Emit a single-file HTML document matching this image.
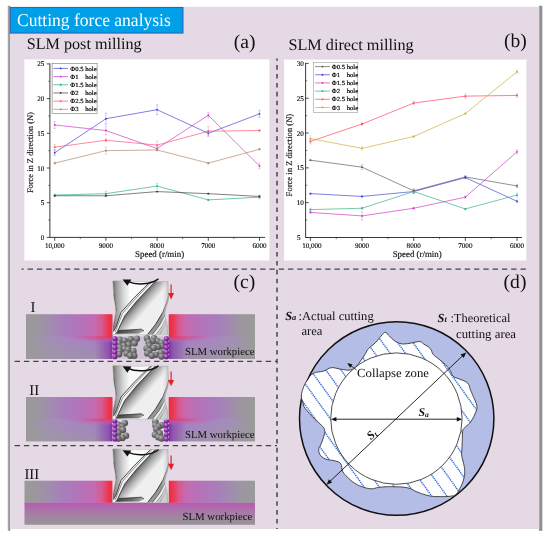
<!DOCTYPE html>
<html lang="en"><head><meta charset="utf-8"><title>Cutting force analysis</title>
<style>
html,body{margin:0;padding:0;background:#fff;}
body{width:550px;height:538px;overflow:hidden;position:relative;font-family:"Liberation Serif",serif;}
svg{position:absolute;left:0;top:0;display:block;}
text{font-family:"Liberation Serif",serif;fill:#111;text-rendering:geometricPrecision;}
.ax text{font-size:7.1px;fill:#000;stroke:#000;stroke-width:0.12px;}
.lg text{font-size:6.2px;fill:#000;stroke:#000;stroke-width:0.18px;}
</style></head><body>
<svg width="550" height="538" viewBox="0 0 550 538">
<defs>
<linearGradient id="gBL" x1="0" x2="1" y1="0" y2="0"><stop offset="0" stop-color="#e2e2e2"/><stop offset="0.45" stop-color="#9a9a9a"/><stop offset="1" stop-color="#7c7c7c"/></linearGradient>
<linearGradient id="gBR" x1="0" x2="1" y1="0" y2="0"><stop offset="0" stop-color="#848484"/><stop offset="0.6" stop-color="#8e8e8e"/><stop offset="1" stop-color="#d8d8d8"/></linearGradient>
<linearGradient id="gUp" x1="0" x2="1" y1="0" y2="0">
 <stop offset="0" stop-color="#9a9a9a"/><stop offset="0.15" stop-color="#9c969f"/><stop offset="0.28" stop-color="#a18cae"/>
 <stop offset="0.45" stop-color="#a87dbc"/><stop offset="0.65" stop-color="#b572b9"/><stop offset="0.8" stop-color="#c56ab0"/>
 <stop offset="0.88" stop-color="#d65a90"/><stop offset="0.95" stop-color="#ec3850"/><stop offset="1" stop-color="#f02a3c"/>
</linearGradient>
<linearGradient id="gUpR" x1="1" x2="0" y1="0" y2="0">
 <stop offset="0" stop-color="#9a9a9a"/><stop offset="0.15" stop-color="#9c969f"/><stop offset="0.28" stop-color="#a18cae"/>
 <stop offset="0.45" stop-color="#a87dbc"/><stop offset="0.65" stop-color="#b572b9"/><stop offset="0.8" stop-color="#c56ab0"/>
 <stop offset="0.88" stop-color="#d65a90"/><stop offset="0.95" stop-color="#ec3850"/><stop offset="1" stop-color="#f02a3c"/>
</linearGradient>
<linearGradient id="gLo" x1="0" x2="1" y1="0" y2="0">
 <stop offset="0" stop-color="#9a9a9a"/><stop offset="0.1" stop-color="#9d96a2"/><stop offset="0.25" stop-color="#a38eb8"/>
 <stop offset="0.5" stop-color="#a785c4"/><stop offset="1" stop-color="#a57bc4"/>
</linearGradient>
<linearGradient id="gLoR" x1="1" x2="0" y1="0" y2="0">
 <stop offset="0" stop-color="#9a9a9a"/><stop offset="0.1" stop-color="#9d96a2"/><stop offset="0.25" stop-color="#a38eb8"/>
 <stop offset="0.5" stop-color="#a785c4"/><stop offset="1" stop-color="#a57bc4"/>
</linearGradient>
<radialGradient id="gStreak" cx="1" cy="0" r="1" gradientTransform="translate(1 0) scale(0.62 0.32) translate(-1 0)">
 <stop offset="0" stop-color="#f02c50" stop-opacity="1"/><stop offset="0.5" stop-color="#d8508c" stop-opacity="0.7"/><stop offset="1" stop-color="#c070c0" stop-opacity="0"/>
</radialGradient>
<radialGradient id="gStreakR" cx="0" cy="0" r="1" gradientTransform="scale(0.62 0.32)">
 <stop offset="0" stop-color="#f02c50" stop-opacity="1"/><stop offset="0.5" stop-color="#d8508c" stop-opacity="0.7"/><stop offset="1" stop-color="#c070c0" stop-opacity="0"/>
</radialGradient>
<linearGradient id="gGrayBot" x1="0.05" x2="0.4" y1="1.1" y2="0">
 <stop offset="0" stop-color="#9b9a9b" stop-opacity="0.8"/><stop offset="1" stop-color="#9b9a9b" stop-opacity="0"/>
</linearGradient>
<linearGradient id="gGrayBotR" x1="0.95" x2="0.6" y1="1.1" y2="0">
 <stop offset="0" stop-color="#9b9a9b" stop-opacity="0.8"/><stop offset="1" stop-color="#9b9a9b" stop-opacity="0"/>
</linearGradient>
<linearGradient id="gDeep" x1="0" x2="1" y1="0" y2="0"><stop offset="0.8" stop-color="#7a28a0" stop-opacity="0"/><stop offset="0.95" stop-color="#8030a8" stop-opacity="0.55"/><stop offset="1" stop-color="#7a1f9c" stop-opacity="0.85"/></linearGradient>
<linearGradient id="gDeepR" x1="1" x2="0" y1="0" y2="0"><stop offset="0.8" stop-color="#7a28a0" stop-opacity="0"/><stop offset="0.95" stop-color="#8030a8" stop-opacity="0.55"/><stop offset="1" stop-color="#7a1f9c" stop-opacity="0.85"/></linearGradient>
<linearGradient id="gIII" x1="0" x2="0" y1="0" y2="1">
 <stop offset="0" stop-color="#b855b4"/><stop offset="0.35" stop-color="#aa74a8"/><stop offset="1" stop-color="#989698"/>
</linearGradient>
<linearGradient id="gBody" x1="0" x2="1" y1="0" y2="0">
 <stop offset="0" stop-color="#8c8c8c"/><stop offset="0.08" stop-color="#d9d9d9"/><stop offset="0.2" stop-color="#ffffff"/>
 <stop offset="0.42" stop-color="#e8e8e8"/><stop offset="0.6" stop-color="#b5b5b5"/><stop offset="0.72" stop-color="#f6f6f6"/>
 <stop offset="0.9" stop-color="#ffffff"/><stop offset="1" stop-color="#c4c4c4"/>
</linearGradient>
<linearGradient id="gShade" x1="0" x2="1" y1="0" y2="0">
 <stop offset="0" stop-color="#7d7d7d"/><stop offset="1" stop-color="#e9e9e9"/>
</linearGradient>
<linearGradient id="gShade2" x1="0" x2="1" y1="0" y2="1">
 <stop offset="0" stop-color="#f4f4f4"/><stop offset="1" stop-color="#8a8a8a"/>
</linearGradient>
<radialGradient id="gBall" cx="0.35" cy="0.3" r="0.75">
 <stop offset="0" stop-color="#b4b4b4"/><stop offset="0.5" stop-color="#747474"/><stop offset="1" stop-color="#484848"/>
</radialGradient>
<radialGradient id="gBallP" cx="0.35" cy="0.3" r="0.75">
 <stop offset="0" stop-color="#d090e0"/><stop offset="0.55" stop-color="#8a2aa6"/><stop offset="1" stop-color="#5a1478"/>
</radialGradient>
<linearGradient id="gLeft" gradientUnits="userSpaceOnUse" x1="0" y1="0" x2="17" y2="0">
 <stop offset="0" stop-color="#6c6c6c"/><stop offset="0.25" stop-color="#a2a2a2"/><stop offset="0.6" stop-color="#d4d4d4"/><stop offset="1" stop-color="#fafafa"/>
</linearGradient>
<linearGradient id="gBand" gradientUnits="userSpaceOnUse" x1="24" y1="17" x2="33.8" y2="25.6">
 <stop offset="0" stop-color="#626262"/><stop offset="0.3" stop-color="#9a9a9a"/><stop offset="0.65" stop-color="#cacaca"/><stop offset="1" stop-color="#efefef"/>
</linearGradient>
<linearGradient id="gEdgeR" gradientUnits="userSpaceOnUse" x1="49" y1="0" x2="57" y2="0">
 <stop offset="0" stop-color="#ffffff" stop-opacity="0"/><stop offset="1" stop-color="#a8a8a8" stop-opacity="0.9"/>
</linearGradient>
<linearGradient id="gFace" gradientUnits="userSpaceOnUse" x1="4" y1="0" x2="31" y2="0">
 <stop offset="0" stop-color="#3f3f3f"/><stop offset="0.6" stop-color="#6d6d6d"/><stop offset="1" stop-color="#a5a5a5"/>
</linearGradient>
<clipPath id="toolClip"><path id="toolPath" d="M0.5,-0.9 C9,-1.8 18,0.2 28,-0.3 C38,-0.8 48,-0.2 55.8,-0.6 L56.4,15.6 C56.2,21 53,27 52.7,31.7 C52.6,37 55.4,42 55.8,45.3 L56.1,52.6 L0.5,52.6 L0.7,45.3 C1,41 3.4,33 3.5,28 C3.5,23 1.7,18 1.4,13.1 Z"/></clipPath>
<g id="tool">
 <use href="#toolPath" fill="#f4f4f4"/>
 <g clip-path="url(#toolClip)">
  <g transform="translate(0.6 2)">
  <path d="M-2,-6 L41.5,-6 L31.6,3.5 L20.5,14.6 L8.2,28.5 L3.2,43 L0.6,47 L-2,53 Z" fill="url(#gLeft)"/>
  <path d="M45.6,-6 L37.8,2.4 L24,17 L12,31.8 L5,46 L3.4,53 L58,53 L58,-6 Z" fill="url(#gBand)"/>
  <path d="M32.9,53 L42.8,40.3 L50.2,28 L53.9,18.1 L56.5,9 L58,9 L58,53 Z" fill="#ededed"/>
  <path d="M32.9,53 L42.8,40.3 L50.2,28 L53.9,18.1 L56.2,10.5 L57.5,18 L54.9,23.5 L52,31.7 L46.5,41.6 L37.8,53 Z" fill="#969696"/>
  <path d="M41,53 L48.6,43 L53.2,34 L55,28 L57,30 L57,53 Z" fill="#c9c9c9"/>
  <path d="M0.6,47.5 L3.2,43 L8.2,28.5 L20.5,14.6 L31.6,3.5 L41.5,-6" fill="none" stroke="#2b2b2b" stroke-width="0.85"/>
  <path d="M2.4,48 L9.6,29.6 L21.8,15.6 L33,3.8 L42.8,-6" fill="none" stroke="#3a3a3a" stroke-width="0.55"/>
  <path d="M4.4,48 L12,31.8 L24,17 L37.8,2.4 L45.6,-6" fill="none" stroke="#2b2b2b" stroke-width="0.8"/>
  <path d="M32.9,53 L42.8,40.3 L50.2,28 L53.9,18.1 L56.3,10" fill="none" stroke="#2b2b2b" stroke-width="0.85"/>
  <path d="M37.8,53 L46.5,41.6 L52,31.7 L54.9,23.5 L57,18" fill="none" stroke="#3a3a3a" stroke-width="0.6"/>
  <path d="M41.4,53 L48.8,43 L53.3,34 L55.2,28" fill="none" stroke="#666" stroke-width="0.5"/>
  <path d="M45.4,53 L51.4,42.8 L53.9,36.6" fill="none" stroke="#777" stroke-width="0.5"/>
  </g>
  <rect x="46" y="-3" width="12" height="57" fill="url(#gEdgeR)"/>
  <path d="M1.6,11 C2,19 3.8,24 3.9,29" fill="none" stroke="#4a4a4a" stroke-width="0.7"/>
  <path d="M6.3,48.5 L29.2,47.2 L31.8,49 L26.7,51.6 L2.6,51.8 Z" fill="url(#gFace)"/>
  <path d="M6.3,48.5 L29.2,47.2 L31.8,49" fill="none" stroke="#222" stroke-width="0.7"/>
 </g>
 <use href="#toolPath" fill="none" stroke="#9a9a9a" stroke-width="0.35"/>
</g>
<g id="toolArr">
 <path d="M45.8,-3.8 C39,1.6 24,2.4 16,-1.4" fill="none" stroke="#111" stroke-width="1.5" stroke-linecap="round"/>
 <path d="M10.4,-3.6 L19.2,-3.4 L15.2,2.8 Z" fill="#111"/>
 <path d="M58.9,1.6 L58.9,11" stroke="#e61e28" stroke-width="1.2" fill="none"/>
 <path d="M55.9,10 L61.9,10 L58.9,16.4 Z" fill="#e61e28"/>
</g>
</defs>

<rect x="0" y="0" width="550" height="538" fill="#ffffff"/>
<rect x="7.4" y="5.8" width="2.8" height="525" fill="url(#gBL)"/>
<rect x="539" y="5.8" width="3.8" height="525" fill="url(#gBR)"/>
<rect x="9.8" y="6.8" width="529.6" height="522.2" fill="#e6d9e6"/>
<rect x="10.2" y="7.4" width="172.8" height="25.7" fill="#00a0e9" stroke="#3c4fae" stroke-width="0.9"/>
<text x="17" y="26.3" font-size="18.2" style="fill:#ffffff" textLength="153.8" lengthAdjust="spacingAndGlyphs">Cutting force analysis</text>
<text x="26.7" y="49.2" font-size="16.1" textLength="114.9" lengthAdjust="spacingAndGlyphs">SLM post milling</text>
<text x="233.7" y="47.6" font-size="19.6">(a)</text>
<text x="288.4" y="50" font-size="16.1" textLength="125.3" lengthAdjust="spacingAndGlyphs">SLM direct milling</text>
<text x="504" y="46.6" font-size="19.6">(b)</text>
<rect x="24.4" y="59.4" width="245.0" height="201.1" fill="#ffffff"/>
<g class="ax">
<path d="M49.9,63.5 V237.4 H265" fill="none" stroke="#222" stroke-width="0.9"/>
<path d="M49.9,237.40 h-3.1" stroke="#222" stroke-width="0.8"/>
<text x="44.4" y="239.90" text-anchor="end">0</text>
<path d="M49.9,220.05 h-1.6" stroke="#222" stroke-width="0.6"/>
<path d="M49.9,202.70 h-3.1" stroke="#222" stroke-width="0.8"/>
<text x="44.4" y="205.20" text-anchor="end">5</text>
<path d="M49.9,185.35 h-1.6" stroke="#222" stroke-width="0.6"/>
<path d="M49.9,168.00 h-3.1" stroke="#222" stroke-width="0.8"/>
<text x="44.4" y="170.50" text-anchor="end">10</text>
<path d="M49.9,150.65 h-1.6" stroke="#222" stroke-width="0.6"/>
<path d="M49.9,133.30 h-3.1" stroke="#222" stroke-width="0.8"/>
<text x="44.4" y="135.80" text-anchor="end">15</text>
<path d="M49.9,115.95 h-1.6" stroke="#222" stroke-width="0.6"/>
<path d="M49.9,98.60 h-3.1" stroke="#222" stroke-width="0.8"/>
<text x="44.4" y="101.10" text-anchor="end">20</text>
<path d="M49.9,81.25 h-1.6" stroke="#222" stroke-width="0.6"/>
<path d="M49.9,63.90 h-3.1" stroke="#222" stroke-width="0.8"/>
<text x="44.4" y="66.40" text-anchor="end">25</text>
<path d="M54.70,237.4 v3.4" stroke="#222" stroke-width="0.8"/>
<text x="54.70" y="248.30" text-anchor="middle">10,000</text>
<path d="M105.90,237.4 v3.4" stroke="#222" stroke-width="0.8"/>
<text x="105.90" y="248.30" text-anchor="middle">9000</text>
<path d="M157.10,237.4 v3.4" stroke="#222" stroke-width="0.8"/>
<text x="157.10" y="248.30" text-anchor="middle">8000</text>
<path d="M208.30,237.4 v3.4" stroke="#222" stroke-width="0.8"/>
<text x="208.30" y="248.30" text-anchor="middle">7000</text>
<path d="M259.50,237.4 v3.4" stroke="#222" stroke-width="0.8"/>
<text x="259.50" y="248.30" text-anchor="middle">6000</text>
<path d="M80.30,237.4 v1.7" stroke="#222" stroke-width="0.6"/>
<path d="M131.50,237.4 v1.7" stroke="#222" stroke-width="0.6"/>
<path d="M182.70,237.4 v1.7" stroke="#222" stroke-width="0.6"/>
<path d="M233.90,237.4 v1.7" stroke="#222" stroke-width="0.6"/>
</g>
<polyline points="54.70,152.73 105.90,118.73 157.10,109.70 208.30,133.30 259.50,113.87" fill="none" stroke="#3b3bd0" stroke-width="0.9" stroke-opacity="0.72"/>
<circle cx="54.70" cy="152.73" r="0.9" fill="#3b3bd0"/>
<path d="M54.70,149.96 V155.51 M53.50,149.96 h2.4 M53.50,155.51 h2.4" stroke="#3b3bd0" stroke-width="0.45" stroke-opacity="0.6" fill="none"/>
<circle cx="105.90" cy="118.73" r="0.9" fill="#3b3bd0"/>
<path d="M105.90,113.17 V124.28 M104.70,113.17 h2.4 M104.70,124.28 h2.4" stroke="#3b3bd0" stroke-width="0.45" stroke-opacity="0.6" fill="none"/>
<circle cx="157.10" cy="109.70" r="0.9" fill="#3b3bd0"/>
<path d="M157.10,104.85 V114.56 M155.90,104.85 h2.4 M155.90,114.56 h2.4" stroke="#3b3bd0" stroke-width="0.45" stroke-opacity="0.6" fill="none"/>
<circle cx="208.30" cy="133.30" r="0.9" fill="#3b3bd0"/>
<path d="M208.30,130.52 V136.08 M207.10,130.52 h2.4 M207.10,136.08 h2.4" stroke="#3b3bd0" stroke-width="0.45" stroke-opacity="0.6" fill="none"/>
<circle cx="259.50" cy="113.87" r="0.9" fill="#3b3bd0"/>
<path d="M259.50,110.40 V117.34 M258.30,110.40 h2.4 M258.30,117.34 h2.4" stroke="#3b3bd0" stroke-width="0.45" stroke-opacity="0.6" fill="none"/>
<polyline points="54.70,124.97 105.90,130.52 157.10,148.57 208.30,115.26 259.50,165.92" fill="none" stroke="#c832c8" stroke-width="0.9" stroke-opacity="0.72"/>
<circle cx="54.70" cy="124.97" r="0.9" fill="#c832c8"/>
<path d="M54.70,121.50 V128.44 M53.50,121.50 h2.4 M53.50,128.44 h2.4" stroke="#c832c8" stroke-width="0.45" stroke-opacity="0.6" fill="none"/>
<circle cx="105.90" cy="130.52" r="0.9" fill="#c832c8"/>
<path d="M105.90,126.36 V134.69 M104.70,126.36 h2.4 M104.70,134.69 h2.4" stroke="#c832c8" stroke-width="0.45" stroke-opacity="0.6" fill="none"/>
<circle cx="157.10" cy="148.57" r="0.9" fill="#c832c8"/>
<path d="M157.10,146.49 V150.65 M155.90,146.49 h2.4 M155.90,150.65 h2.4" stroke="#c832c8" stroke-width="0.45" stroke-opacity="0.6" fill="none"/>
<circle cx="208.30" cy="115.26" r="0.9" fill="#c832c8"/>
<path d="M208.30,112.48 V118.03 M207.10,112.48 h2.4 M207.10,118.03 h2.4" stroke="#c832c8" stroke-width="0.45" stroke-opacity="0.6" fill="none"/>
<circle cx="259.50" cy="165.92" r="0.9" fill="#c832c8"/>
<path d="M259.50,163.14 V168.69 M258.30,163.14 h2.4 M258.30,168.69 h2.4" stroke="#c832c8" stroke-width="0.45" stroke-opacity="0.6" fill="none"/>
<polyline points="54.70,195.07 105.90,193.68 157.10,186.04 208.30,199.92 259.50,197.15" fill="none" stroke="#20a884" stroke-width="0.9" stroke-opacity="0.72"/>
<circle cx="54.70" cy="195.07" r="0.9" fill="#20a884"/>
<path d="M54.70,194.03 V196.11 M53.50,194.03 h2.4 M53.50,196.11 h2.4" stroke="#20a884" stroke-width="0.45" stroke-opacity="0.6" fill="none"/>
<circle cx="105.90" cy="193.68" r="0.9" fill="#20a884"/>
<path d="M105.90,191.25 V196.11 M104.70,191.25 h2.4 M104.70,196.11 h2.4" stroke="#20a884" stroke-width="0.45" stroke-opacity="0.6" fill="none"/>
<circle cx="157.10" cy="186.04" r="0.9" fill="#20a884"/>
<path d="M157.10,183.27 V188.82 M155.90,183.27 h2.4 M155.90,188.82 h2.4" stroke="#20a884" stroke-width="0.45" stroke-opacity="0.6" fill="none"/>
<circle cx="208.30" cy="199.92" r="0.9" fill="#20a884"/>
<path d="M208.30,199.23 V200.62 M207.10,199.23 h2.4 M207.10,200.62 h2.4" stroke="#20a884" stroke-width="0.45" stroke-opacity="0.6" fill="none"/>
<circle cx="259.50" cy="197.15" r="0.9" fill="#20a884"/>
<path d="M259.50,195.41 V198.88 M258.30,195.41 h2.4 M258.30,198.88 h2.4" stroke="#20a884" stroke-width="0.45" stroke-opacity="0.6" fill="none"/>
<polyline points="54.70,195.76 105.90,195.76 157.10,191.60 208.30,193.68 259.50,196.45" fill="none" stroke="#3a3a3a" stroke-width="0.9" stroke-opacity="0.72"/>
<circle cx="54.70" cy="195.76" r="0.9" fill="#3a3a3a"/>
<path d="M54.70,195.41 V196.11 M53.50,195.41 h2.4 M53.50,196.11 h2.4" stroke="#3a3a3a" stroke-width="0.45" stroke-opacity="0.6" fill="none"/>
<circle cx="105.90" cy="195.76" r="0.9" fill="#3a3a3a"/>
<path d="M105.90,195.07 V196.45 M104.70,195.07 h2.4 M104.70,196.45 h2.4" stroke="#3a3a3a" stroke-width="0.45" stroke-opacity="0.6" fill="none"/>
<circle cx="157.10" cy="191.60" r="0.9" fill="#3a3a3a"/>
<path d="M157.10,191.25 V191.94 M155.90,191.25 h2.4 M155.90,191.94 h2.4" stroke="#3a3a3a" stroke-width="0.45" stroke-opacity="0.6" fill="none"/>
<circle cx="208.30" cy="193.68" r="0.9" fill="#3a3a3a"/>
<path d="M208.30,193.33 V194.03 M207.10,193.33 h2.4 M207.10,194.03 h2.4" stroke="#3a3a3a" stroke-width="0.45" stroke-opacity="0.6" fill="none"/>
<circle cx="259.50" cy="196.45" r="0.9" fill="#3a3a3a"/>
<path d="M259.50,195.41 V197.50 M258.30,195.41 h2.4 M258.30,197.50 h2.4" stroke="#3a3a3a" stroke-width="0.45" stroke-opacity="0.6" fill="none"/>
<polyline points="54.70,147.18 105.90,140.24 157.10,145.10 208.30,131.22 259.50,130.52" fill="none" stroke="#ff4a6a" stroke-width="0.9" stroke-opacity="0.72"/>
<circle cx="54.70" cy="147.18" r="0.9" fill="#ff4a6a"/>
<path d="M54.70,144.40 V149.96 M53.50,144.40 h2.4 M53.50,149.96 h2.4" stroke="#ff4a6a" stroke-width="0.45" stroke-opacity="0.6" fill="none"/>
<circle cx="105.90" cy="140.24" r="0.9" fill="#ff4a6a"/>
<path d="M105.90,138.85 V141.63 M104.70,138.85 h2.4 M104.70,141.63 h2.4" stroke="#ff4a6a" stroke-width="0.45" stroke-opacity="0.6" fill="none"/>
<circle cx="157.10" cy="145.10" r="0.9" fill="#ff4a6a"/>
<path d="M157.10,140.93 V149.26 M155.90,140.93 h2.4 M155.90,149.26 h2.4" stroke="#ff4a6a" stroke-width="0.45" stroke-opacity="0.6" fill="none"/>
<circle cx="208.30" cy="131.22" r="0.9" fill="#ff4a6a"/>
<path d="M208.30,126.36 V136.08 M207.10,126.36 h2.4 M207.10,136.08 h2.4" stroke="#ff4a6a" stroke-width="0.45" stroke-opacity="0.6" fill="none"/>
<circle cx="259.50" cy="130.52" r="0.9" fill="#ff4a6a"/>
<path d="M259.50,129.83 V131.22 M258.30,129.83 h2.4 M258.30,131.22 h2.4" stroke="#ff4a6a" stroke-width="0.45" stroke-opacity="0.6" fill="none"/>
<polyline points="54.70,163.14 105.90,150.65 157.10,149.96 208.30,163.14 259.50,149.26" fill="none" stroke="#b08060" stroke-width="0.9" stroke-opacity="0.72"/>
<circle cx="54.70" cy="163.14" r="0.9" fill="#b08060"/>
<path d="M54.70,162.10 V164.18 M53.50,162.10 h2.4 M53.50,164.18 h2.4" stroke="#b08060" stroke-width="0.45" stroke-opacity="0.6" fill="none"/>
<circle cx="105.90" cy="150.65" r="0.9" fill="#b08060"/>
<path d="M105.90,147.18 V154.12 M104.70,147.18 h2.4 M104.70,154.12 h2.4" stroke="#b08060" stroke-width="0.45" stroke-opacity="0.6" fill="none"/>
<circle cx="157.10" cy="149.96" r="0.9" fill="#b08060"/>
<path d="M157.10,148.92 V151.00 M155.90,148.92 h2.4 M155.90,151.00 h2.4" stroke="#b08060" stroke-width="0.45" stroke-opacity="0.6" fill="none"/>
<circle cx="208.30" cy="163.14" r="0.9" fill="#b08060"/>
<path d="M208.30,162.10 V164.18 M207.10,162.10 h2.4 M207.10,164.18 h2.4" stroke="#b08060" stroke-width="0.45" stroke-opacity="0.6" fill="none"/>
<circle cx="259.50" cy="149.26" r="0.9" fill="#b08060"/>
<path d="M259.50,148.57 V149.96 M258.30,148.57 h2.4 M258.30,149.96 h2.4" stroke="#b08060" stroke-width="0.45" stroke-opacity="0.6" fill="none"/>
<g class="lg">
<rect x="52.1" y="63.4" width="45.0" height="49.9" fill="#fff" stroke="#777" stroke-width="0.6"/>
<path d="M53.3,68.40 h14.8" stroke="#3b3bd0" stroke-width="0.8" stroke-opacity="0.85"/>
<circle cx="60.699999999999996" cy="68.40" r="0.9" fill="#3b3bd0"/>
<text x="70.3" y="70.50" xml:space="preserve" textLength="26.4" lengthAdjust="spacingAndGlyphs">Φ0.5 hole</text>
<path d="M53.3,76.58 h14.8" stroke="#c832c8" stroke-width="0.8" stroke-opacity="0.85"/>
<circle cx="60.699999999999996" cy="76.58" r="0.9" fill="#c832c8"/>
<text x="70.3" y="78.68" xml:space="preserve" textLength="26.4" lengthAdjust="spacingAndGlyphs">Φ1    hole</text>
<path d="M53.3,84.76 h14.8" stroke="#20a884" stroke-width="0.8" stroke-opacity="0.85"/>
<circle cx="60.699999999999996" cy="84.76" r="0.9" fill="#20a884"/>
<text x="70.3" y="86.86" xml:space="preserve" textLength="26.4" lengthAdjust="spacingAndGlyphs">Φ1.5 hole</text>
<path d="M53.3,92.94 h14.8" stroke="#3a3a3a" stroke-width="0.8" stroke-opacity="0.85"/>
<circle cx="60.699999999999996" cy="92.94" r="0.9" fill="#3a3a3a"/>
<text x="70.3" y="95.04" xml:space="preserve" textLength="26.4" lengthAdjust="spacingAndGlyphs">Φ2    hole</text>
<path d="M53.3,101.12 h14.8" stroke="#ff4a6a" stroke-width="0.8" stroke-opacity="0.85"/>
<circle cx="60.699999999999996" cy="101.12" r="0.9" fill="#ff4a6a"/>
<text x="70.3" y="103.22" xml:space="preserve" textLength="26.4" lengthAdjust="spacingAndGlyphs">Φ2.5 hole</text>
<path d="M53.3,109.30 h14.8" stroke="#b08060" stroke-width="0.8" stroke-opacity="0.85"/>
<circle cx="60.699999999999996" cy="109.30" r="0.9" fill="#b08060"/>
<text x="70.3" y="111.40" xml:space="preserve" textLength="26.4" lengthAdjust="spacingAndGlyphs">Φ3    hole</text>
</g>
<text transform="translate(33.2 152.6) rotate(-90)" text-anchor="middle" font-size="8.7" stroke="#111" stroke-width="0.15" textLength="81" lengthAdjust="spacingAndGlyphs">Force in Z direction (N)</text>
<text x="159.6" y="256.9" text-anchor="middle" font-size="8.9" stroke="#111" stroke-width="0.15" textLength="49" lengthAdjust="spacingAndGlyphs">Speed (r/min)</text>
<rect x="284.1" y="59.6" width="242.3" height="200.9" fill="#ffffff"/>
<g class="ax">
<path d="M305.6,63.0 V237.5 H522" fill="none" stroke="#222" stroke-width="0.9"/>
<path d="M305.6,237.50 h3.1" stroke="#222" stroke-width="0.8"/>
<text x="297.0" y="240.00">5</text>
<path d="M305.6,220.09 h1.6" stroke="#222" stroke-width="0.6"/>
<path d="M305.6,202.68 h3.1" stroke="#222" stroke-width="0.8"/>
<text x="303.8" y="205.18" text-anchor="end">10</text>
<path d="M305.6,185.27 h1.6" stroke="#222" stroke-width="0.6"/>
<path d="M305.6,167.86 h3.1" stroke="#222" stroke-width="0.8"/>
<text x="303.8" y="170.36" text-anchor="end">15</text>
<path d="M305.6,150.45 h1.6" stroke="#222" stroke-width="0.6"/>
<path d="M305.6,133.04 h3.1" stroke="#222" stroke-width="0.8"/>
<text x="303.8" y="135.54" text-anchor="end">20</text>
<path d="M305.6,115.63 h1.6" stroke="#222" stroke-width="0.6"/>
<path d="M305.6,98.22 h3.1" stroke="#222" stroke-width="0.8"/>
<text x="303.8" y="100.72" text-anchor="end">25</text>
<path d="M305.6,80.81 h1.6" stroke="#222" stroke-width="0.6"/>
<path d="M305.6,63.40 h3.1" stroke="#222" stroke-width="0.8"/>
<text x="303.8" y="65.90" text-anchor="end">30</text>
<path d="M310.40,237.5 v3.4" stroke="#222" stroke-width="0.8"/>
<text x="311.90" y="248.40" text-anchor="middle">10,000</text>
<path d="M362.05,237.5 v3.4" stroke="#222" stroke-width="0.8"/>
<text x="362.05" y="248.40" text-anchor="middle">9000</text>
<path d="M413.70,237.5 v3.4" stroke="#222" stroke-width="0.8"/>
<text x="413.70" y="248.40" text-anchor="middle">8000</text>
<path d="M465.35,237.5 v3.4" stroke="#222" stroke-width="0.8"/>
<text x="465.35" y="248.40" text-anchor="middle">7000</text>
<path d="M517.00,237.5 v3.4" stroke="#222" stroke-width="0.8"/>
<text x="517.00" y="248.40" text-anchor="middle">6000</text>
<path d="M336.22,237.5 v1.7" stroke="#222" stroke-width="0.6"/>
<path d="M387.87,237.5 v1.7" stroke="#222" stroke-width="0.6"/>
<path d="M439.52,237.5 v1.7" stroke="#222" stroke-width="0.6"/>
<path d="M491.17,237.5 v1.7" stroke="#222" stroke-width="0.6"/>
</g>
<polyline points="310.40,160.20 362.05,167.16 413.70,190.84 465.35,176.91 517.00,185.97" fill="none" stroke="#555555" stroke-width="0.9" stroke-opacity="0.72"/>
<circle cx="310.40" cy="160.20" r="0.9" fill="#555555"/>
<path d="M310.40,159.85 V160.55 M309.20,159.85 h2.4 M309.20,160.55 h2.4" stroke="#555555" stroke-width="0.45" stroke-opacity="0.6" fill="none"/>
<circle cx="362.05" cy="167.16" r="0.9" fill="#555555"/>
<path d="M362.05,164.73 V169.60 M360.85,164.73 h2.4 M360.85,169.60 h2.4" stroke="#555555" stroke-width="0.45" stroke-opacity="0.6" fill="none"/>
<circle cx="413.70" cy="190.84" r="0.9" fill="#555555"/>
<path d="M413.70,188.75 V192.93 M412.50,188.75 h2.4 M412.50,192.93 h2.4" stroke="#555555" stroke-width="0.45" stroke-opacity="0.6" fill="none"/>
<circle cx="465.35" cy="176.91" r="0.9" fill="#555555"/>
<path d="M465.35,175.52 V178.31 M464.15,175.52 h2.4 M464.15,178.31 h2.4" stroke="#555555" stroke-width="0.45" stroke-opacity="0.6" fill="none"/>
<circle cx="517.00" cy="185.97" r="0.9" fill="#555555"/>
<path d="M517.00,184.23 V187.71 M515.80,184.23 h2.4 M515.80,187.71 h2.4" stroke="#555555" stroke-width="0.45" stroke-opacity="0.6" fill="none"/>
<polyline points="310.40,193.63 362.05,196.41 413.70,191.54 465.35,177.61 517.00,201.29" fill="none" stroke="#3b3bd0" stroke-width="0.9" stroke-opacity="0.72"/>
<circle cx="310.40" cy="193.63" r="0.9" fill="#3b3bd0"/>
<path d="M310.40,192.93 V194.32 M309.20,192.93 h2.4 M309.20,194.32 h2.4" stroke="#3b3bd0" stroke-width="0.45" stroke-opacity="0.6" fill="none"/>
<circle cx="362.05" cy="196.41" r="0.9" fill="#3b3bd0"/>
<path d="M362.05,195.72 V197.11 M360.85,195.72 h2.4 M360.85,197.11 h2.4" stroke="#3b3bd0" stroke-width="0.45" stroke-opacity="0.6" fill="none"/>
<circle cx="413.70" cy="191.54" r="0.9" fill="#3b3bd0"/>
<path d="M413.70,189.80 V193.28 M412.50,189.80 h2.4 M412.50,193.28 h2.4" stroke="#3b3bd0" stroke-width="0.45" stroke-opacity="0.6" fill="none"/>
<circle cx="465.35" cy="177.61" r="0.9" fill="#3b3bd0"/>
<path d="M465.35,176.56 V178.65 M464.15,176.56 h2.4 M464.15,178.65 h2.4" stroke="#3b3bd0" stroke-width="0.45" stroke-opacity="0.6" fill="none"/>
<circle cx="517.00" cy="201.29" r="0.9" fill="#3b3bd0"/>
<path d="M517.00,200.24 V202.33 M515.80,200.24 h2.4 M515.80,202.33 h2.4" stroke="#3b3bd0" stroke-width="0.45" stroke-opacity="0.6" fill="none"/>
<polyline points="310.40,212.43 362.05,215.91 413.70,208.25 465.35,197.11 517.00,151.84" fill="none" stroke="#c832c8" stroke-width="0.9" stroke-opacity="0.72"/>
<circle cx="310.40" cy="212.43" r="0.9" fill="#c832c8"/>
<path d="M310.40,211.73 V213.13 M309.20,211.73 h2.4 M309.20,213.13 h2.4" stroke="#c832c8" stroke-width="0.45" stroke-opacity="0.6" fill="none"/>
<circle cx="362.05" cy="215.91" r="0.9" fill="#c832c8"/>
<path d="M362.05,211.73 V220.09 M360.85,211.73 h2.4 M360.85,220.09 h2.4" stroke="#c832c8" stroke-width="0.45" stroke-opacity="0.6" fill="none"/>
<circle cx="413.70" cy="208.25" r="0.9" fill="#c832c8"/>
<path d="M413.70,207.55 V208.95 M412.50,207.55 h2.4 M412.50,208.95 h2.4" stroke="#c832c8" stroke-width="0.45" stroke-opacity="0.6" fill="none"/>
<circle cx="465.35" cy="197.11" r="0.9" fill="#c832c8"/>
<path d="M465.35,196.06 V198.15 M464.15,196.06 h2.4 M464.15,198.15 h2.4" stroke="#c832c8" stroke-width="0.45" stroke-opacity="0.6" fill="none"/>
<circle cx="517.00" cy="151.84" r="0.9" fill="#c832c8"/>
<path d="M517.00,149.75 V153.93 M515.80,149.75 h2.4 M515.80,153.93 h2.4" stroke="#c832c8" stroke-width="0.45" stroke-opacity="0.6" fill="none"/>
<polyline points="310.40,209.64 362.05,208.25 413.70,191.54 465.35,208.95 517.00,195.02" fill="none" stroke="#30aa88" stroke-width="0.9" stroke-opacity="0.72"/>
<circle cx="310.40" cy="209.64" r="0.9" fill="#30aa88"/>
<path d="M310.40,208.25 V211.04 M309.20,208.25 h2.4 M309.20,211.04 h2.4" stroke="#30aa88" stroke-width="0.45" stroke-opacity="0.6" fill="none"/>
<circle cx="362.05" cy="208.25" r="0.9" fill="#30aa88"/>
<path d="M362.05,207.21 V209.30 M360.85,207.21 h2.4 M360.85,209.30 h2.4" stroke="#30aa88" stroke-width="0.45" stroke-opacity="0.6" fill="none"/>
<circle cx="413.70" cy="191.54" r="0.9" fill="#30aa88"/>
<path d="M413.70,189.45 V193.63 M412.50,189.45 h2.4 M412.50,193.63 h2.4" stroke="#30aa88" stroke-width="0.45" stroke-opacity="0.6" fill="none"/>
<circle cx="465.35" cy="208.95" r="0.9" fill="#30aa88"/>
<path d="M465.35,208.25 V209.64 M464.15,208.25 h2.4 M464.15,209.64 h2.4" stroke="#30aa88" stroke-width="0.45" stroke-opacity="0.6" fill="none"/>
<circle cx="517.00" cy="195.02" r="0.9" fill="#30aa88"/>
<path d="M517.00,192.93 V197.11 M515.80,192.93 h2.4 M515.80,197.11 h2.4" stroke="#30aa88" stroke-width="0.45" stroke-opacity="0.6" fill="none"/>
<polyline points="310.40,141.40 362.05,123.99 413.70,103.09 465.35,96.13 517.00,95.43" fill="none" stroke="#ff3a5c" stroke-width="0.9" stroke-opacity="0.72"/>
<circle cx="310.40" cy="141.40" r="0.9" fill="#ff3a5c"/>
<path d="M310.40,138.96 V143.83 M309.20,138.96 h2.4 M309.20,143.83 h2.4" stroke="#ff3a5c" stroke-width="0.45" stroke-opacity="0.6" fill="none"/>
<circle cx="362.05" cy="123.99" r="0.9" fill="#ff3a5c"/>
<path d="M362.05,122.94 V125.03 M360.85,122.94 h2.4 M360.85,125.03 h2.4" stroke="#ff3a5c" stroke-width="0.45" stroke-opacity="0.6" fill="none"/>
<circle cx="413.70" cy="103.09" r="0.9" fill="#ff3a5c"/>
<path d="M413.70,101.35 V104.84 M412.50,101.35 h2.4 M412.50,104.84 h2.4" stroke="#ff3a5c" stroke-width="0.45" stroke-opacity="0.6" fill="none"/>
<circle cx="465.35" cy="96.13" r="0.9" fill="#ff3a5c"/>
<path d="M465.35,94.04 V98.22 M464.15,94.04 h2.4 M464.15,98.22 h2.4" stroke="#ff3a5c" stroke-width="0.45" stroke-opacity="0.6" fill="none"/>
<circle cx="517.00" cy="95.43" r="0.9" fill="#ff3a5c"/>
<path d="M517.00,93.69 V97.18 M515.80,93.69 h2.4 M515.80,97.18 h2.4" stroke="#ff3a5c" stroke-width="0.45" stroke-opacity="0.6" fill="none"/>
<polyline points="310.40,138.61 362.05,148.36 413.70,136.52 465.35,113.54 517.00,71.76" fill="none" stroke="#c8aa28" stroke-width="0.9" stroke-opacity="0.72"/>
<circle cx="310.40" cy="138.61" r="0.9" fill="#c8aa28"/>
<path d="M310.40,135.83 V141.40 M309.20,135.83 h2.4 M309.20,141.40 h2.4" stroke="#c8aa28" stroke-width="0.45" stroke-opacity="0.6" fill="none"/>
<circle cx="362.05" cy="148.36" r="0.9" fill="#c8aa28"/>
<path d="M362.05,146.62 V150.10 M360.85,146.62 h2.4 M360.85,150.10 h2.4" stroke="#c8aa28" stroke-width="0.45" stroke-opacity="0.6" fill="none"/>
<circle cx="413.70" cy="136.52" r="0.9" fill="#c8aa28"/>
<path d="M413.70,135.83 V137.22 M412.50,135.83 h2.4 M412.50,137.22 h2.4" stroke="#c8aa28" stroke-width="0.45" stroke-opacity="0.6" fill="none"/>
<circle cx="465.35" cy="113.54" r="0.9" fill="#c8aa28"/>
<path d="M465.35,112.84 V114.24 M464.15,112.84 h2.4 M464.15,114.24 h2.4" stroke="#c8aa28" stroke-width="0.45" stroke-opacity="0.6" fill="none"/>
<circle cx="517.00" cy="71.76" r="0.9" fill="#c8aa28"/>
<path d="M517.00,69.67 V73.85 M515.80,69.67 h2.4 M515.80,73.85 h2.4" stroke="#c8aa28" stroke-width="0.45" stroke-opacity="0.6" fill="none"/>
<g class="lg">
<rect x="313.6" y="62.5" width="44.2" height="49.9" fill="#fff" stroke="#9a9a9a" stroke-width="0.6"/>
<path d="M315.1,66.60 h14.8" stroke="#555555" stroke-width="0.8" stroke-opacity="0.85"/>
<circle cx="322.5" cy="66.60" r="0.9" fill="#555555"/>
<text x="331.8" y="68.70" xml:space="preserve" textLength="26.4" lengthAdjust="spacingAndGlyphs">Φ0.5 hole</text>
<path d="M315.1,74.77 h14.8" stroke="#3b3bd0" stroke-width="0.8" stroke-opacity="0.85"/>
<circle cx="322.5" cy="74.77" r="0.9" fill="#3b3bd0"/>
<text x="331.8" y="76.87" xml:space="preserve" textLength="26.4" lengthAdjust="spacingAndGlyphs">Φ1    hole</text>
<path d="M315.1,82.94 h14.8" stroke="#c832c8" stroke-width="0.8" stroke-opacity="0.85"/>
<circle cx="322.5" cy="82.94" r="0.9" fill="#c832c8"/>
<text x="331.8" y="85.04" xml:space="preserve" textLength="26.4" lengthAdjust="spacingAndGlyphs">Φ1.5 hole</text>
<path d="M315.1,91.11 h14.8" stroke="#30aa88" stroke-width="0.8" stroke-opacity="0.85"/>
<circle cx="322.5" cy="91.11" r="0.9" fill="#30aa88"/>
<text x="331.8" y="93.21" xml:space="preserve" textLength="26.4" lengthAdjust="spacingAndGlyphs">Φ2    hole</text>
<path d="M315.1,99.28 h14.8" stroke="#ff3a5c" stroke-width="0.8" stroke-opacity="0.85"/>
<circle cx="322.5" cy="99.28" r="0.9" fill="#ff3a5c"/>
<text x="331.8" y="101.38" xml:space="preserve" textLength="26.4" lengthAdjust="spacingAndGlyphs">Φ2.5 hole</text>
<path d="M315.1,107.45 h14.8" stroke="#c8aa28" stroke-width="0.8" stroke-opacity="0.85"/>
<circle cx="322.5" cy="107.45" r="0.9" fill="#c8aa28"/>
<text x="331.8" y="109.55" xml:space="preserve" textLength="26.4" lengthAdjust="spacingAndGlyphs">Φ3    hole</text>
</g>
<text transform="translate(292.1 155.1) rotate(-90)" text-anchor="middle" font-size="8.7" stroke="#111" stroke-width="0.15" textLength="82.6" lengthAdjust="spacingAndGlyphs">Force in Z direction (N)</text>
<text x="417.2" y="257.1" text-anchor="middle" font-size="8.9" stroke="#111" stroke-width="0.15" textLength="49" lengthAdjust="spacingAndGlyphs">Speed (r/min)</text>
<path d="M21.6,269 H528.4" stroke-dashoffset="3.3" stroke="#454545" stroke-width="1.25" stroke-dasharray="5.4 3.9" fill="none"/>
<path d="M277,58.4 V529" stroke-dashoffset="2.2" stroke="#454545" stroke-width="1.5" stroke-dasharray="4.6 4.3" fill="none"/>
<path d="M14.6,361.3 H277" stroke="#454545" stroke-width="1.25" stroke-dasharray="5.4 3.9" fill="none"/>
<path d="M14.6,445.7 H277" stroke="#454545" stroke-width="1.25" stroke-dasharray="5.4 3.9" fill="none"/>
<rect x="26.0" y="315.2" width="86.4" height="43.7" fill="#a58bbd"/>
<rect x="168.8" y="315.2" width="86.2" height="43.7" fill="#a58bbd"/>
<rect x="26.0" y="335.8" width="86.4" height="23.1" fill="url(#gLo)"/>
<rect x="26.0" y="335.8" width="86.4" height="23.1" fill="url(#gGrayBot)"/>
<rect x="26.0" y="335.8" width="86.4" height="23.1" fill="url(#gDeep)"/>
<rect x="26.0" y="335.8" width="86.4" height="23.1" fill="url(#gStreak)"/>
<rect x="168.8" y="335.8" width="86.2" height="23.1" fill="url(#gLoR)"/>
<rect x="168.8" y="335.8" width="86.2" height="23.1" fill="url(#gGrayBotR)"/>
<rect x="168.8" y="335.8" width="86.2" height="23.1" fill="url(#gDeepR)"/>
<rect x="168.8" y="335.8" width="86.2" height="23.1" fill="url(#gStreakR)"/>
<rect x="112.4" y="336.3" width="56.4" height="22.6" fill="#cfc3d5"/>
<circle cx="136.9" cy="338.8" r="3.2" fill="url(#gBall)"/>
<circle cx="130.8" cy="339.3" r="3.2" fill="url(#gBall)"/>
<circle cx="119.9" cy="339.6" r="3.2" fill="url(#gBall)"/>
<circle cx="124.7" cy="340.7" r="3.2" fill="url(#gBall)"/>
<circle cx="119.1" cy="343.2" r="3.2" fill="url(#gBall)"/>
<circle cx="134.7" cy="343.3" r="3.2" fill="url(#gBall)"/>
<circle cx="128.6" cy="344.8" r="3.2" fill="url(#gBall)"/>
<circle cx="123.8" cy="345.7" r="3.2" fill="url(#gBall)"/>
<circle cx="119.7" cy="347.4" r="3.2" fill="url(#gBall)"/>
<circle cx="124.5" cy="348.9" r="3.2" fill="url(#gBall)"/>
<circle cx="128.2" cy="349.5" r="3.2" fill="url(#gBall)"/>
<circle cx="133.5" cy="351.0" r="3.2" fill="url(#gBall)"/>
<circle cx="119.7" cy="351.1" r="3.2" fill="url(#gBall)"/>
<circle cx="126.5" cy="353.4" r="3.2" fill="url(#gBall)"/>
<circle cx="119.1" cy="354.3" r="3.2" fill="url(#gBall)"/>
<circle cx="134.3" cy="355.7" r="3.2" fill="url(#gBall)"/>
<circle cx="130.3" cy="355.7" r="3.2" fill="url(#gBall)"/>
<circle cx="147.0" cy="338.2" r="3.2" fill="url(#gBall)"/>
<circle cx="154.1" cy="338.3" r="3.2" fill="url(#gBall)"/>
<circle cx="157.7" cy="341.1" r="3.2" fill="url(#gBall)"/>
<circle cx="152.6" cy="341.3" r="3.2" fill="url(#gBall)"/>
<circle cx="148.6" cy="342.2" r="3.2" fill="url(#gBall)"/>
<circle cx="161.6" cy="342.8" r="3.2" fill="url(#gBall)"/>
<circle cx="149.3" cy="345.8" r="3.2" fill="url(#gBall)"/>
<circle cx="161.8" cy="346.3" r="3.2" fill="url(#gBall)"/>
<circle cx="158.1" cy="346.9" r="3.2" fill="url(#gBall)"/>
<circle cx="153.7" cy="347.9" r="3.2" fill="url(#gBall)"/>
<circle cx="146.6" cy="348.4" r="3.2" fill="url(#gBall)"/>
<circle cx="149.3" cy="350.9" r="3.2" fill="url(#gBall)"/>
<circle cx="161.0" cy="352.6" r="3.2" fill="url(#gBall)"/>
<circle cx="147.3" cy="353.4" r="3.2" fill="url(#gBall)"/>
<circle cx="155.9" cy="354.8" r="3.2" fill="url(#gBall)"/>
<circle cx="151.9" cy="355.7" r="3.2" fill="url(#gBall)"/>
<circle cx="161.5" cy="356.5" r="3.2" fill="url(#gBall)"/>
<circle cx="114.8" cy="338.7" r="2.6" fill="url(#gBallP)"/>
<circle cx="166.4" cy="338.7" r="2.6" fill="url(#gBallP)"/>
<circle cx="114.8" cy="343.2" r="2.6" fill="url(#gBallP)"/>
<circle cx="166.4" cy="343.2" r="2.6" fill="url(#gBallP)"/>
<circle cx="114.8" cy="347.7" r="2.6" fill="url(#gBallP)"/>
<circle cx="166.4" cy="347.7" r="2.6" fill="url(#gBallP)"/>
<circle cx="114.8" cy="352.2" r="2.6" fill="url(#gBallP)"/>
<circle cx="166.4" cy="352.2" r="2.6" fill="url(#gBallP)"/>
<circle cx="114.8" cy="356.7" r="2.6" fill="url(#gBallP)"/>
<circle cx="166.4" cy="356.7" r="2.6" fill="url(#gBallP)"/>
<rect x="26.0" y="314.2" width="86.4" height="22.1" fill="url(#gUp)"/>
<rect x="168.8" y="314.2" width="86.2" height="22.1" fill="url(#gUpR)"/>
<use href="#tool" x="112.2" y="282.0"/>
<use href="#toolArr" x="112.2" y="283.0"/>
<text x="33" y="312.3" font-size="14.8" text-anchor="middle">I</text>
<text x="185" y="355.2" font-size="10.8" textLength="69.5" lengthAdjust="spacingAndGlyphs">SLM workpiece</text>
<rect x="26.0" y="398.0" width="86.4" height="43.2" fill="#a58bbd"/>
<rect x="168.8" y="398.0" width="86.2" height="43.2" fill="#a58bbd"/>
<rect x="26.0" y="418.1" width="86.4" height="23.1" fill="url(#gLo)"/>
<rect x="26.0" y="418.1" width="86.4" height="23.1" fill="url(#gGrayBot)"/>
<rect x="26.0" y="418.1" width="86.4" height="23.1" fill="url(#gDeep)"/>
<rect x="26.0" y="418.1" width="86.4" height="23.1" fill="url(#gStreak)"/>
<rect x="168.8" y="418.1" width="86.2" height="23.1" fill="url(#gLoR)"/>
<rect x="168.8" y="418.1" width="86.2" height="23.1" fill="url(#gGrayBotR)"/>
<rect x="168.8" y="418.1" width="86.2" height="23.1" fill="url(#gDeepR)"/>
<rect x="168.8" y="418.1" width="86.2" height="23.1" fill="url(#gStreakR)"/>
<rect x="112.4" y="418.6" width="56.4" height="22.6" fill="#e3d8e6"/>
<circle cx="124.8" cy="423.0" r="3.3" fill="url(#gBall)"/>
<circle cx="118.3" cy="424.9" r="3.3" fill="url(#gBall)"/>
<circle cx="122.0" cy="426.7" r="3.3" fill="url(#gBall)"/>
<circle cx="118.7" cy="428.6" r="3.3" fill="url(#gBall)"/>
<circle cx="122.9" cy="429.9" r="3.3" fill="url(#gBall)"/>
<circle cx="118.3" cy="432.8" r="3.3" fill="url(#gBall)"/>
<circle cx="126.0" cy="435.8" r="3.3" fill="url(#gBall)"/>
<circle cx="122.4" cy="437.9" r="3.3" fill="url(#gBall)"/>
<circle cx="118.2" cy="438.6" r="3.3" fill="url(#gBall)"/>
<circle cx="155.4" cy="421.6" r="3.3" fill="url(#gBall)"/>
<circle cx="161.9" cy="425.3" r="3.3" fill="url(#gBall)"/>
<circle cx="155.5" cy="425.4" r="3.3" fill="url(#gBall)"/>
<circle cx="158.6" cy="426.7" r="3.3" fill="url(#gBall)"/>
<circle cx="156.3" cy="429.2" r="3.3" fill="url(#gBall)"/>
<circle cx="159.7" cy="433.4" r="3.3" fill="url(#gBall)"/>
<circle cx="155.0" cy="434.8" r="3.3" fill="url(#gBall)"/>
<circle cx="158.4" cy="437.3" r="3.3" fill="url(#gBall)"/>
<circle cx="161.6" cy="438.4" r="3.3" fill="url(#gBall)"/>
<circle cx="114.8" cy="421.0" r="2.6" fill="url(#gBallP)"/>
<circle cx="166.4" cy="421.0" r="2.6" fill="url(#gBallP)"/>
<circle cx="114.8" cy="425.5" r="2.6" fill="url(#gBallP)"/>
<circle cx="166.4" cy="425.5" r="2.6" fill="url(#gBallP)"/>
<circle cx="114.8" cy="430.0" r="2.6" fill="url(#gBallP)"/>
<circle cx="166.4" cy="430.0" r="2.6" fill="url(#gBallP)"/>
<circle cx="114.8" cy="434.5" r="2.6" fill="url(#gBallP)"/>
<circle cx="166.4" cy="434.5" r="2.6" fill="url(#gBallP)"/>
<circle cx="114.8" cy="439.0" r="2.6" fill="url(#gBallP)"/>
<circle cx="166.4" cy="439.0" r="2.6" fill="url(#gBallP)"/>
<rect x="26.0" y="397.0" width="86.4" height="21.6" fill="url(#gUp)"/>
<rect x="168.8" y="397.0" width="86.2" height="21.6" fill="url(#gUpR)"/>
<use href="#tool" x="112.2" y="366.6"/>
<use href="#toolArr" x="112.2" y="369.9"/>
<text x="34.3" y="394.7" font-size="14.8" text-anchor="middle">II</text>
<text x="185" y="437.8" font-size="10.8" textLength="69.5" lengthAdjust="spacingAndGlyphs">SLM workpiece</text>
<rect x="24.5" y="502.3" width="230.5" height="22.5" fill="url(#gIII)"/>
<rect x="24.5" y="480.7" width="87.9" height="22.1" fill="url(#gUp)"/>
<rect x="168.8" y="480.7" width="86.2" height="22.1" fill="url(#gUpR)"/>
<use href="#tool" x="112.2" y="450.0"/>
<use href="#toolArr" x="112.2" y="453.8"/>
<text x="31.8" y="478.6" font-size="14.8" text-anchor="middle">III</text>
<text x="182.4" y="520.2" font-size="10.8" textLength="70" lengthAdjust="spacingAndGlyphs">SLM workpiece</text>
<text x="233.6" y="287.6" font-size="19.6">(c)</text>
<text x="503.6" y="287.6" font-size="19.6">(d)</text>
<ellipse cx="396.7" cy="418.5" rx="97.2" ry="96.8" fill="#b3bde6" stroke="#111" stroke-width="1.5"/>
<path d="M313.1,373.4 C316.3,371.6 320.0,372.2 323.6,371.1 C327.2,370.0 327.9,368.1 331.3,367.7 C334.7,367.3 337.0,368.7 340.8,369.2 C344.6,369.7 347.2,370.5 350.3,370.0 C353.4,369.5 353.8,369.0 356.1,366.8 C358.4,364.6 359.9,361.8 361.8,359.1 C363.7,356.4 364.3,355.5 365.6,353.4 C366.9,351.3 366.6,350.7 368.5,348.6 C370.4,346.5 372.7,345.4 375.2,342.9 C377.7,340.4 378.9,338.3 380.9,336.2 C382.9,334.1 383.6,332.5 385.1,332.3 C386.6,332.1 386.8,333.7 388.4,335.1 C390.0,336.5 390.9,337.9 392.9,339.5 C394.9,341.1 396.2,342.0 398.4,342.9 C400.6,343.8 401.3,344.0 404.0,344.0 C406.7,344.0 408.7,343.4 411.8,342.9 C414.9,342.4 417.2,341.4 419.6,341.6 C422.0,341.8 421.5,342.5 423.6,343.9 C425.7,345.3 428.4,346.5 430.3,348.6 C432.2,350.7 431.5,352.3 433.2,354.4 C434.9,356.5 436.4,357.0 438.9,359.1 C441.4,361.2 443.3,362.5 445.6,364.8 C447.9,367.1 448.8,368.3 450.3,370.6 C451.8,372.9 451.3,374.6 453.2,376.3 C455.1,378.0 457.0,377.9 459.9,379.2 C462.8,380.5 465.4,380.9 467.5,383.0 C469.6,385.1 469.3,387.0 470.4,389.7 C471.5,392.4 471.9,393.1 473.2,396.3 C474.5,399.5 476.3,402.4 476.8,405.6 C477.3,408.8 476.8,409.2 475.7,412.3 C474.6,415.4 473.2,418.3 471.2,421.2 C469.2,424.1 467.3,425.0 465.6,426.8 C463.9,428.6 463.5,428.4 462.9,430.2 C462.3,432.0 462.5,433.5 462.4,436.0 C462.3,438.5 462.3,439.9 462.2,442.8 C462.1,445.7 461.9,447.7 461.8,450.4 C461.7,453.1 461.4,453.5 461.8,456.2 C462.2,458.9 463.1,460.8 463.7,463.8 C464.3,466.8 464.7,468.3 464.7,471.4 C464.7,474.5 464.5,476.0 463.7,479.1 C462.9,482.2 462.3,483.7 460.8,486.7 C459.3,489.7 458.2,492.4 456.1,494.3 C454.0,496.2 453.4,495.7 450.3,496.2 C447.2,496.7 444.6,496.6 440.8,496.6 C437.0,496.6 434.7,496.7 431.3,496.2 C427.9,495.7 426.7,495.2 423.6,494.3 C420.5,493.4 418.7,492.6 416.0,491.5 C413.3,490.4 413.0,489.5 410.3,488.6 C407.6,487.7 405.7,487.5 402.6,487.1 C399.5,486.7 398.1,486.9 395.0,486.8 C391.9,486.7 390.6,486.6 387.3,486.7 C384.0,486.8 381.6,487.0 378.4,487.4 C375.2,487.8 374.6,488.9 371.3,488.8 C368.0,488.7 365.2,487.9 361.8,486.7 C358.4,485.5 357.1,484.8 354.2,482.9 C351.3,481.0 349.8,479.5 347.5,477.2 C345.2,474.9 344.0,474.1 342.7,471.4 C341.4,468.7 342.3,465.9 340.8,463.8 C339.3,461.7 338.2,461.9 335.1,460.9 C332.0,459.9 328.6,460.3 325.5,459.0 C322.4,457.7 321.1,456.4 319.8,454.3 C318.5,452.2 318.7,450.4 318.9,448.5 C319.1,446.6 319.9,447.0 320.8,444.7 C321.7,442.4 322.8,440.1 323.6,437.1 C324.4,434.1 325.4,432.2 324.6,429.5 C323.8,426.8 321.8,425.8 319.8,423.7 C317.8,421.6 317.5,422.1 314.6,419.0 C311.7,415.9 307.4,411.7 305.1,408.4 C302.8,405.1 303.7,404.8 302.9,402.3 C302.1,399.8 301.2,399.1 301.3,396.0 C301.4,392.9 302.4,390.2 303.6,387.0 C304.8,383.8 305.6,382.7 307.5,380.0 C309.4,377.3 309.9,375.2 313.1,373.4 Z" fill="#ffffff"/>
<clipPath id="irrClip"><path d="M313.1,373.4 C316.3,371.6 320.0,372.2 323.6,371.1 C327.2,370.0 327.9,368.1 331.3,367.7 C334.7,367.3 337.0,368.7 340.8,369.2 C344.6,369.7 347.2,370.5 350.3,370.0 C353.4,369.5 353.8,369.0 356.1,366.8 C358.4,364.6 359.9,361.8 361.8,359.1 C363.7,356.4 364.3,355.5 365.6,353.4 C366.9,351.3 366.6,350.7 368.5,348.6 C370.4,346.5 372.7,345.4 375.2,342.9 C377.7,340.4 378.9,338.3 380.9,336.2 C382.9,334.1 383.6,332.5 385.1,332.3 C386.6,332.1 386.8,333.7 388.4,335.1 C390.0,336.5 390.9,337.9 392.9,339.5 C394.9,341.1 396.2,342.0 398.4,342.9 C400.6,343.8 401.3,344.0 404.0,344.0 C406.7,344.0 408.7,343.4 411.8,342.9 C414.9,342.4 417.2,341.4 419.6,341.6 C422.0,341.8 421.5,342.5 423.6,343.9 C425.7,345.3 428.4,346.5 430.3,348.6 C432.2,350.7 431.5,352.3 433.2,354.4 C434.9,356.5 436.4,357.0 438.9,359.1 C441.4,361.2 443.3,362.5 445.6,364.8 C447.9,367.1 448.8,368.3 450.3,370.6 C451.8,372.9 451.3,374.6 453.2,376.3 C455.1,378.0 457.0,377.9 459.9,379.2 C462.8,380.5 465.4,380.9 467.5,383.0 C469.6,385.1 469.3,387.0 470.4,389.7 C471.5,392.4 471.9,393.1 473.2,396.3 C474.5,399.5 476.3,402.4 476.8,405.6 C477.3,408.8 476.8,409.2 475.7,412.3 C474.6,415.4 473.2,418.3 471.2,421.2 C469.2,424.1 467.3,425.0 465.6,426.8 C463.9,428.6 463.5,428.4 462.9,430.2 C462.3,432.0 462.5,433.5 462.4,436.0 C462.3,438.5 462.3,439.9 462.2,442.8 C462.1,445.7 461.9,447.7 461.8,450.4 C461.7,453.1 461.4,453.5 461.8,456.2 C462.2,458.9 463.1,460.8 463.7,463.8 C464.3,466.8 464.7,468.3 464.7,471.4 C464.7,474.5 464.5,476.0 463.7,479.1 C462.9,482.2 462.3,483.7 460.8,486.7 C459.3,489.7 458.2,492.4 456.1,494.3 C454.0,496.2 453.4,495.7 450.3,496.2 C447.2,496.7 444.6,496.6 440.8,496.6 C437.0,496.6 434.7,496.7 431.3,496.2 C427.9,495.7 426.7,495.2 423.6,494.3 C420.5,493.4 418.7,492.6 416.0,491.5 C413.3,490.4 413.0,489.5 410.3,488.6 C407.6,487.7 405.7,487.5 402.6,487.1 C399.5,486.7 398.1,486.9 395.0,486.8 C391.9,486.7 390.6,486.6 387.3,486.7 C384.0,486.8 381.6,487.0 378.4,487.4 C375.2,487.8 374.6,488.9 371.3,488.8 C368.0,488.7 365.2,487.9 361.8,486.7 C358.4,485.5 357.1,484.8 354.2,482.9 C351.3,481.0 349.8,479.5 347.5,477.2 C345.2,474.9 344.0,474.1 342.7,471.4 C341.4,468.7 342.3,465.9 340.8,463.8 C339.3,461.7 338.2,461.9 335.1,460.9 C332.0,459.9 328.6,460.3 325.5,459.0 C322.4,457.7 321.1,456.4 319.8,454.3 C318.5,452.2 318.7,450.4 318.9,448.5 C319.1,446.6 319.9,447.0 320.8,444.7 C321.7,442.4 322.8,440.1 323.6,437.1 C324.4,434.1 325.4,432.2 324.6,429.5 C323.8,426.8 321.8,425.8 319.8,423.7 C317.8,421.6 317.5,422.1 314.6,419.0 C311.7,415.9 307.4,411.7 305.1,408.4 C302.8,405.1 303.7,404.8 302.9,402.3 C302.1,399.8 301.2,399.1 301.3,396.0 C301.4,392.9 302.4,390.2 303.6,387.0 C304.8,383.8 305.6,382.7 307.5,380.0 C309.4,377.3 309.9,375.2 313.1,373.4 Z"/></clipPath>
<path d="M424.1,273.1 L543.2,438.8 M414.1,280.4 L533.1,446.0 M404.0,287.6 L523.0,453.3 M393.9,294.8 L513.0,460.5 M383.9,302.1 L502.9,467.7 M373.8,309.3 L492.8,475.0 M363.7,316.5 L482.8,482.2 M353.6,323.8 L472.7,489.4 M343.6,331.0 L462.6,496.7 M333.5,338.2 L452.5,503.9 M323.4,345.5 L442.5,511.2 M313.4,352.7 L432.4,518.4 M303.3,360.0 L422.3,525.6 M293.2,367.2 L412.3,532.9 M283.2,374.4 L402.2,540.1 M273.1,381.7 L392.1,547.3 M263.0,388.9 L382.1,554.6 M252.9,396.1 L372.0,561.8" clip-path="url(#irrClip)" fill="none" stroke="#3a72d8" stroke-width="1.45" stroke-dasharray="1.35 0.75"/>
<path d="M313.1,373.4 C316.3,371.6 320.0,372.2 323.6,371.1 C327.2,370.0 327.9,368.1 331.3,367.7 C334.7,367.3 337.0,368.7 340.8,369.2 C344.6,369.7 347.2,370.5 350.3,370.0 C353.4,369.5 353.8,369.0 356.1,366.8 C358.4,364.6 359.9,361.8 361.8,359.1 C363.7,356.4 364.3,355.5 365.6,353.4 C366.9,351.3 366.6,350.7 368.5,348.6 C370.4,346.5 372.7,345.4 375.2,342.9 C377.7,340.4 378.9,338.3 380.9,336.2 C382.9,334.1 383.6,332.5 385.1,332.3 C386.6,332.1 386.8,333.7 388.4,335.1 C390.0,336.5 390.9,337.9 392.9,339.5 C394.9,341.1 396.2,342.0 398.4,342.9 C400.6,343.8 401.3,344.0 404.0,344.0 C406.7,344.0 408.7,343.4 411.8,342.9 C414.9,342.4 417.2,341.4 419.6,341.6 C422.0,341.8 421.5,342.5 423.6,343.9 C425.7,345.3 428.4,346.5 430.3,348.6 C432.2,350.7 431.5,352.3 433.2,354.4 C434.9,356.5 436.4,357.0 438.9,359.1 C441.4,361.2 443.3,362.5 445.6,364.8 C447.9,367.1 448.8,368.3 450.3,370.6 C451.8,372.9 451.3,374.6 453.2,376.3 C455.1,378.0 457.0,377.9 459.9,379.2 C462.8,380.5 465.4,380.9 467.5,383.0 C469.6,385.1 469.3,387.0 470.4,389.7 C471.5,392.4 471.9,393.1 473.2,396.3 C474.5,399.5 476.3,402.4 476.8,405.6 C477.3,408.8 476.8,409.2 475.7,412.3 C474.6,415.4 473.2,418.3 471.2,421.2 C469.2,424.1 467.3,425.0 465.6,426.8 C463.9,428.6 463.5,428.4 462.9,430.2 C462.3,432.0 462.5,433.5 462.4,436.0 C462.3,438.5 462.3,439.9 462.2,442.8 C462.1,445.7 461.9,447.7 461.8,450.4 C461.7,453.1 461.4,453.5 461.8,456.2 C462.2,458.9 463.1,460.8 463.7,463.8 C464.3,466.8 464.7,468.3 464.7,471.4 C464.7,474.5 464.5,476.0 463.7,479.1 C462.9,482.2 462.3,483.7 460.8,486.7 C459.3,489.7 458.2,492.4 456.1,494.3 C454.0,496.2 453.4,495.7 450.3,496.2 C447.2,496.7 444.6,496.6 440.8,496.6 C437.0,496.6 434.7,496.7 431.3,496.2 C427.9,495.7 426.7,495.2 423.6,494.3 C420.5,493.4 418.7,492.6 416.0,491.5 C413.3,490.4 413.0,489.5 410.3,488.6 C407.6,487.7 405.7,487.5 402.6,487.1 C399.5,486.7 398.1,486.9 395.0,486.8 C391.9,486.7 390.6,486.6 387.3,486.7 C384.0,486.8 381.6,487.0 378.4,487.4 C375.2,487.8 374.6,488.9 371.3,488.8 C368.0,488.7 365.2,487.9 361.8,486.7 C358.4,485.5 357.1,484.8 354.2,482.9 C351.3,481.0 349.8,479.5 347.5,477.2 C345.2,474.9 344.0,474.1 342.7,471.4 C341.4,468.7 342.3,465.9 340.8,463.8 C339.3,461.7 338.2,461.9 335.1,460.9 C332.0,459.9 328.6,460.3 325.5,459.0 C322.4,457.7 321.1,456.4 319.8,454.3 C318.5,452.2 318.7,450.4 318.9,448.5 C319.1,446.6 319.9,447.0 320.8,444.7 C321.7,442.4 322.8,440.1 323.6,437.1 C324.4,434.1 325.4,432.2 324.6,429.5 C323.8,426.8 321.8,425.8 319.8,423.7 C317.8,421.6 317.5,422.1 314.6,419.0 C311.7,415.9 307.4,411.7 305.1,408.4 C302.8,405.1 303.7,404.8 302.9,402.3 C302.1,399.8 301.2,399.1 301.3,396.0 C301.4,392.9 302.4,390.2 303.6,387.0 C304.8,383.8 305.6,382.7 307.5,380.0 C309.4,377.3 309.9,375.2 313.1,373.4 Z" fill="none" stroke="#222" stroke-width="0.8" stroke-linejoin="round"/>
<circle cx="396.4" cy="418.6" r="65.7" fill="#ffffff" stroke="#222" stroke-width="0.8"/>
<path d="M333.5,419.2 H459.5" stroke="#111" stroke-width="0.9"/>
<path d="M331,419.2 l5.4,-2.3 v4.6 Z M462.2,419.2 l-5.4,-2.3 v4.6 Z" fill="#111"/>
<path d="M328.4,482.9 L464.4,354.1" stroke="#111" stroke-width="0.9"/>
<g transform="translate(326.5 484.7) rotate(-43.4)"><path d="M0,0 l5.6,-2.3 v4.6 Z" fill="#111"/></g>
<g transform="translate(466.2 352.4) rotate(-43.4)"><path d="M0,0 l-5.6,-2.3 v4.6 Z" fill="#111"/></g>
<path d="M356.6,370 L349.6,364.7" stroke="#111" stroke-width="0.8"/>
<g transform="translate(347.2 362.9) rotate(37)"><path d="M0,0 l5.2,-2 v4 Z" fill="#111"/></g>
<text x="357" y="377.4" font-size="12.3" textLength="72" lengthAdjust="spacingAndGlyphs">Collapse zone</text>
<text x="285.2" y="319.8" font-size="12.3" font-style="italic" font-weight="bold">S<tspan font-size="8.4" dy="0.6">a</tspan></text>
<text x="298.5" y="319.8" font-size="12.3" textLength="75.2" lengthAdjust="spacingAndGlyphs">:Actual cutting</text>
<text x="301.4" y="335" font-size="12.3" textLength="21" lengthAdjust="spacingAndGlyphs">area</text>
<text x="437.6" y="321.5" font-size="12.3" font-style="italic" font-weight="bold">S<tspan font-size="8.4" dy="0.6">t</tspan></text>
<text x="450.4" y="321.5" font-size="12.3" textLength="60.1" lengthAdjust="spacingAndGlyphs">:Theoretical</text>
<text x="456" y="337.6" font-size="12.3" textLength="60" lengthAdjust="spacingAndGlyphs">cutting area</text>
<text x="418.4" y="416.2" font-size="11.8" font-style="italic" font-weight="bold">S<tspan font-size="7.5" dy="0.6">a</tspan></text>
<text transform="translate(371 440.2) rotate(-43.4)" font-size="11.8" font-style="italic" font-weight="bold">S<tspan font-size="7.5" dy="1.6">t</tspan></text>
</svg>
</body></html>
